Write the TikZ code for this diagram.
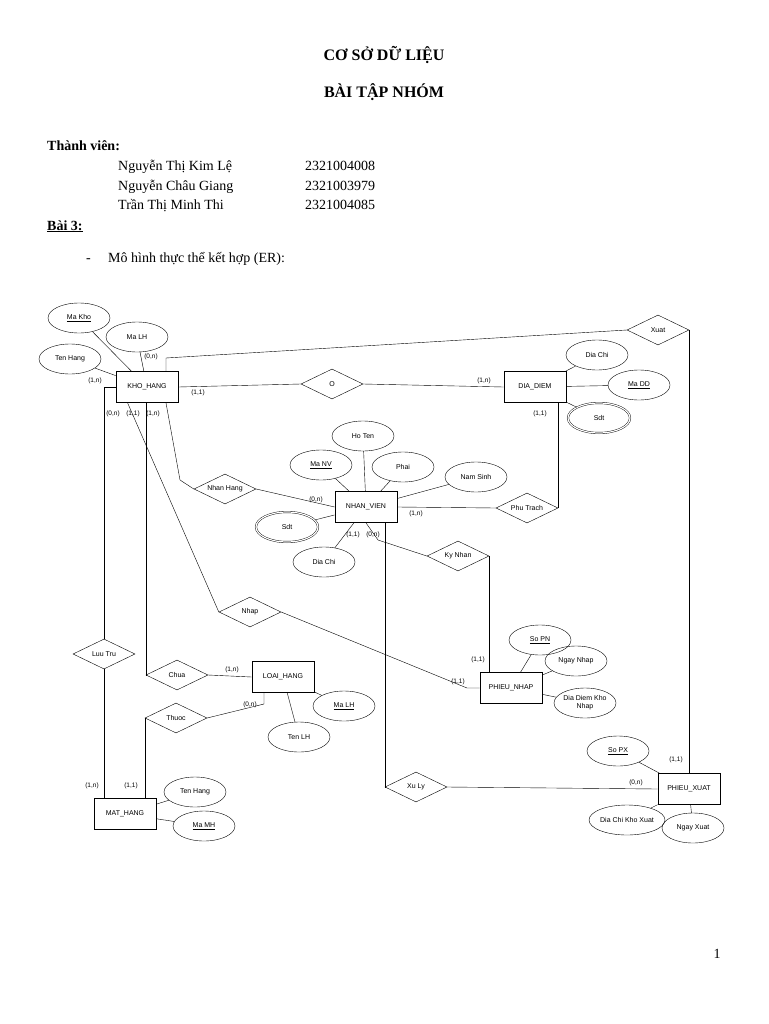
\documentclass[tikz,border=0pt]{standalone}
\usepackage{fontspec}
\setmainfont{Liberation Serif}
\newfontfamily\dsans{Liberation Sans}
\usetikzlibrary{shapes.geometric}
\begin{document}
\begin{tikzpicture}[x=1pt,y=-1pt,
  ent/.style={draw,thick,minimum width=62pt,minimum height=31pt,font=\dsans\fontsize{7}{8}\selectfont,inner sep=0},
  att/.style={draw,ellipse,minimum width=62pt,minimum height=30pt,font=\dsans\fontsize{7}{8}\selectfont,inner sep=0,align=center},
  matt/.style={att,double,double distance=1.2pt},
  rel/.style={draw,diamond,aspect=2,minimum width=62pt,minimum height=30pt,font=\dsans\fontsize{7}{8}\selectfont,inner sep=0},
  card/.style={font=\dsans\fontsize{6.5}{7}\selectfont,inner sep=0},
  txt/.style={font=\fontsize{14}{16}\selectfont,inner sep=0,anchor=base west}]
\useasboundingbox[fill=white] (0,0) rectangle (768,1024);
% header
\node[font=\bfseries\fontsize{16}{18}\selectfont] (t1) at (384,55) {CƠ SỞ DỮ LIỆU};
\node[font=\bfseries\fontsize{16}{18}\selectfont] (t2) at (384,92) {BÀI TẬP NHÓM};
\node[txt,font=\bfseries\fontsize{14}{16}\selectfont] (tv) at (47,151) {Thành viên:};
\node[txt] (n1) at (118,171) {Nguyễn Thị Kim Lệ};
\node[txt] (n2) at (118,191) {Nguyễn Châu Giang};
\node[txt] (n3) at (118,210) {Trần Thị Minh Thi};
\node[txt] (m1) at (305,171) {2321004008};
\node[txt] (m2) at (305,191) {2321003979};
\node[txt] (m3) at (305,210) {2321004085};
\node[txt,font=\bfseries\fontsize{14}{16}\selectfont] (b3) at (47,230) {\underline{Bài 3:}};
\node[txt] (dash) at (86,262) {-};
\node[txt] (mh) at (108,262) {Mô hình thực thể kết hợp (ER):};
\node[font=\fontsize{14}{16}\selectfont] (pg) at (717,954) {1};
% entities
\node[ent] (kho) at (147,387) {KHO\_HANG};
\node[ent] (dd) at (535,387) {DIA\_DIEM};
\node[ent] (nv) at (366,507) {NHAN\_VIEN};
\node[ent] (lh) at (283,677) {LOAI\_HANG};
\node[ent] (pn) at (511,688) {PHIEU\_NHAP};
\node[ent] (mat) at (125,814) {MAT\_HANG};
\node[ent] (px) at (689,789) {PHIEU\_XUAT};
% attributes
\node[att] (makho) at (79,318) {\underline{Ma Kho}};
\node[att] (malh1) at (137,337) {Ma LH};
\node[att] (tenh1) at (70,359) {Ten Hang};
\node[att] (ddchi) at (597,355) {Dia Chi};
\node[att] (madd) at (639,385) {\underline{Ma DD}};
\node[matt] (ddsdt) at (599,418) {Sdt};
\node[att] (hoten) at (363,436) {Ho Ten};
\node[att] (manv) at (321,465) {\underline{Ma NV}};
\node[att] (phai) at (403,467) {Phai};
\node[att] (nams) at (476,477) {Nam Sinh};
\node[matt] (nvsdt) at (287,527) {Sdt};
\node[att] (nvdc) at (324,562) {Dia Chi};
\node[att] (sopn) at (540,640) {\underline{So PN}};
\node[att] (ngn) at (576,661) {Ngay Nhap};
\node[att] (ddkn) at (585,703) {Dia Diem Kho\\Nhap};
\node[att] (malh2) at (344,706) {\underline{Ma LH}};
\node[att] (tenlh) at (299,737) {Ten LH};
\node[att] (sopx) at (618,751) {\underline{So PX}};
\node[att] (dckx) at (627,820) {Dia Chi Kho Xuat};
\node[att] (ngx) at (693,828) {Ngay Xuat};
\node[att] (tenh2) at (195,792) {Ten Hang};
\node[att] (mamh) at (204,826) {\underline{Ma MH}};
% relationships
\node[rel] (o) at (332,384) {O};
\node[rel] (xuat) at (658,330) {Xuat};
\node[rel] (nhanh) at (225,489) {Nhan Hang};
\node[rel] (phut) at (527,508) {Phu Trach};
\node[rel] (kyn) at (458,556) {Ky Nhan};
\node[rel] (nhap) at (250,612) {Nhap};
\node[rel] (luu) at (104,654) {Luu Tru};
\node[rel] (chua) at (177,675) {Chua};
\node[rel] (thuoc) at (176,718) {Thuoc};
\node[rel] (xuly) at (416,787) {Xu Ly};
% coordinates
\coordinate (c1) at (166,358);
\coordinate (c2) at (104,387);
\coordinate (c3) at (180,480);
\coordinate (c4) at (467,688);
\coordinate (c5) at (264,704);
\coordinate (c6) at (378,540);
% attribute lines
\foreach \a/\b in {makho/kho,malh1/kho,tenh1/kho,ddchi/dd,madd/dd,ddsdt/dd,hoten/nv,manv/nv,phai/nv,nams/nv,nvsdt/nv,nvdc/nv,sopn/pn,ngn/pn,ddkn/pn,malh2/lh,tenlh/lh,sopx/px,dckx/px,ngx/px,tenh2/mat,mamh/mat}
  \draw (\a) -- (\b);
% relationship lines
\draw (kho.east) -- (o.west);
\draw (o.east) -- (dd.west);
\draw (kho.north -| c1) -- (c1) -- (xuat.west);
\draw (xuat.east) -- (xuat.east |- px.north);
\draw (kho.west) -- (c2) -- (luu.north);
\draw (luu.south) -- (luu.south |- mat.north);
\draw (kho.south west) ++(12,0) coordinate (k1) -- (nhap.west);
\draw (nhap.east) -- (c4) -- (pn.west);
\draw (kho.south -| 146,0) coordinate (k2) -- (k2 |- chua.west) -- (chua.west);
\draw (chua.east) -- (lh.west);
\draw (thuoc.east) -- (c5) -- (c5 |- lh.south);
\draw (thuoc.west) -- (thuoc.west |- mat.north);
\draw (kho.south -| c1) -- (c3) -- (nhanh.west);
\draw (nhanh.east) -- (nv.west);
\draw (nv.east) -- (phut.west);
\draw (phut.east) -- (phut.east |- dd.south);
\draw (nv.south) -- (c6) -- (kyn.west);
\draw (kyn.east) -- (kyn.east |- pn.north);
\draw (nv.south -| 385,0) coordinate (k3) -- (k3 |- xuly.west) -- (xuly.west);
\draw (xuly.east) -- (px.west);
% cardinalities
\node[card] (l1) at (151,357) {(0,n)};
\node[card] (l2) at (95,381) {(1,n)};
\node[card] (l3) at (198,393) {(1,1)};
\node[card] (l4) at (484,381) {(1,n)};
\node[card] (l5) at (540,414) {(1,1)};
\node[card] (l6) at (113,414) {(0,n)};
\node[card] (l7) at (133,414) {(1,1)};
\node[card] (l8) at (153,414) {(1,n)};
\node[card] (l9) at (316,500) {(0,n)};
\node[card] (l10) at (416,514) {(1,n)};
\node[card] (l11) at (353,535) {(1,1)};
\node[card] (l12) at (373,535) {(0,n)};
\node[card] (l13) at (478,660) {(1,1)};
\node[card] (l14) at (458,682) {(1,1)};
\node[card] (l15) at (232,670) {(1,n)};
\node[card] (l16) at (250,705) {(0,n)};
\node[card] (l17) at (92,786) {(1,n)};
\node[card] (l18) at (131,786) {(1,1)};
\node[card] (l19) at (676,760) {(1,1)};
\node[card] (l20) at (636,783) {(0,n)};
\end{tikzpicture}
\end{document}
